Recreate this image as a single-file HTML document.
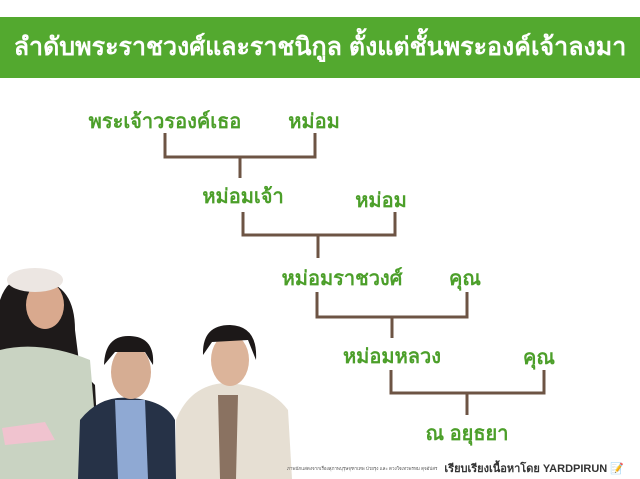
<!DOCTYPE html>
<html><head><meta charset="utf-8"><style>
body{margin:0;width:640px;height:479px;background:#fff;overflow:hidden;position:relative;font-family:"Liberation Sans","Noto Sans CJK SC",sans-serif}
.ban{position:absolute;left:0;top:17px;width:640px;height:61px;background:#53a92f;color:#fff;font-weight:bold;font-size:25px;text-align:center;line-height:60px;white-space:nowrap}
.t{position:absolute;color:#4c9f2a;font-weight:bold;font-size:20px;white-space:nowrap;transform:translate(-50%,-50%)}
svg{position:absolute;left:0;top:0}
.f{position:absolute;font-size:4.5px;color:#555;left:287px;top:465px;white-space:nowrap}
.y{position:absolute;font-size:11px;font-weight:bold;color:#333;right:16px;top:459px;white-space:nowrap}
</style></head><body>
<div class="ban">ลำดับพระราชวงศ์และราชนิกูล ตั้งแต่ชั้นพระองค์เจ้าลงมา</div>
<svg width="640" height="479">
<g stroke="#6d5444" stroke-width="3" fill="none">
<path d="M165 133V157H315V133M240 157V178"/>
<path d="M243 212V235H395V212M318 235V258"/>
<path d="M317 292V317H467V292M392 317V338"/>
<path d="M391 370V393H544V370M467 393V415"/>
</g>
<path d="M0 300 Q10 270 40 280 Q75 285 75 330 L80 370 L95 385 L100 479 L0 479Z" fill="#1e1a1a"/>
<path d="M0 350 Q40 340 90 360 L100 479 L0 479Z" fill="#c9d3c2"/>
<ellipse cx="45" cy="305" rx="19" ry="24" fill="#d9a98e"/>
<ellipse cx="35" cy="280" rx="28" ry="12" fill="#ece6e2"/>
<path d="M2 428 L45 422 L55 440 L5 445Z" fill="#f0c3cf"/>
<path d="M80 420 Q100 395 130 398 Q165 400 175 420 L176 479 L78 479Z" fill="#263247"/>
<path d="M115 400 L145 400 L148 479 L118 479Z" fill="#8fa9d3"/>
<ellipse cx="131" cy="372" rx="20" ry="27" fill="#d6ad93"/>
<path d="M104 365 Q105 335 130 336 Q155 337 153 365 L145 352 L115 352Z" fill="#1c1818"/>
<path d="M176 420 Q190 385 225 383 Q270 385 288 410 L292 479 L176 479Z" fill="#e6dfd3"/>
<path d="M218 395 L238 395 L236 479 L220 479Z" fill="#8a7261"/>
<ellipse cx="230" cy="360" rx="19" ry="26" fill="#dcb49a"/>
<path d="M203 355 Q202 325 230 325 Q258 326 256 360 L248 340 L212 342Z" fill="#1c1818"/>
</svg>
<div class="t" style="left:165px;top:121px">พระเจ้าวรองค์เธอ</div>
<div class="t" style="left:314px;top:121px">หม่อม</div>
<div class="t" style="left:243px;top:196px">หม่อมเจ้า</div>
<div class="t" style="left:381px;top:200px">หม่อม</div>
<div class="t" style="left:342px;top:278px">หม่อมราชวงศ์</div>
<div class="t" style="left:465px;top:278px">คุณ</div>
<div class="t" style="left:392px;top:356px">หม่อมหลวง</div>
<div class="t" style="left:539px;top:357px">คุณ</div>
<div class="t" style="left:467px;top:433px">ณ อยุธยา</div>
<div class="f">ภาพนักแสดงจากเรื่องสุภาพบุรุษจุฑาเทพ ป่วยรุง และ ดวงใจเทวพรหม ดุจอัปสร</div>
<div class="y">เรียบเรียงเนื้อหาโดย YARDPIRUN 📝</div>
</body></html>
